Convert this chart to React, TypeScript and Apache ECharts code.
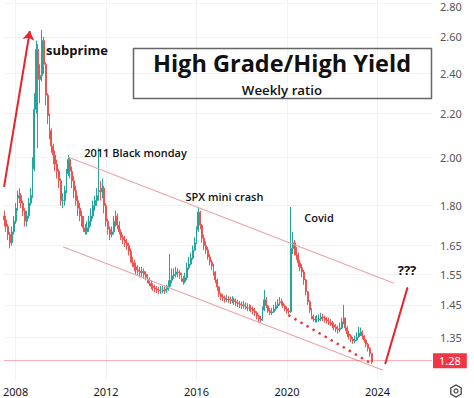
import React, { useEffect, useRef } from "react";
import * as echarts from "echarts";

// Monthly candles, first one = July 2007
const FIRST_MONTH = 2007.5;
const FIRST_OPEN = 1.76;

const closes = [
  1.745, 1.72, 1.69, 1.66, 1.70, 1.74,
  1.79, 1.83, 1.84, 1.81, 1.78, 1.74, 1.76, 1.81, 1.84, 1.95, 2.22, 2.53,
  2.37, 2.39, 2.58, 2.45, 2.29, 2.19, 2.12, 2.05, 2.01, 1.97, 1.94, 1.90,
  1.82, 1.82, 1.86, 1.93, 1.99, 1.94, 1.90, 1.86, 1.82, 1.79, 1.76, 1.745,
  1.715, 1.70, 1.715, 1.74, 1.76, 1.80, 1.82, 1.84, 1.86, 1.855, 1.87, 1.80,
  1.74, 1.71, 1.69, 1.70, 1.74, 1.76, 1.725, 1.70, 1.68, 1.67, 1.66, 1.65,
  1.63, 1.60, 1.59, 1.575, 1.565, 1.56, 1.555, 1.56, 1.55, 1.54, 1.53, 1.52,
  1.51, 1.505, 1.50, 1.498, 1.495, 1.495, 1.498, 1.495, 1.50, 1.51, 1.53, 1.545,
  1.55, 1.558, 1.555, 1.548, 1.535, 1.525, 1.538, 1.572, 1.585, 1.606, 1.634, 1.66,
  1.707, 1.775, 1.725, 1.677, 1.65, 1.634, 1.61, 1.592, 1.578, 1.558, 1.531, 1.508,
  1.485, 1.475, 1.472, 1.466, 1.469, 1.466, 1.463, 1.466, 1.46, 1.456, 1.453, 1.45,
  1.447, 1.45, 1.444, 1.44, 1.44, 1.437, 1.431, 1.425, 1.415, 1.406, 1.403, 1.434,
  1.466, 1.447, 1.431, 1.425, 1.428, 1.437, 1.447, 1.453, 1.46, 1.456, 1.447, 1.437,
  1.431, 1.428, 1.64, 1.66, 1.634, 1.617, 1.589, 1.572, 1.558, 1.531, 1.492, 1.46,
  1.434, 1.415, 1.406, 1.403, 1.403, 1.406, 1.412, 1.409, 1.403, 1.40, 1.397, 1.394,
  1.388, 1.382, 1.376, 1.373, 1.379, 1.397, 1.409, 1.379, 1.361, 1.355, 1.346, 1.34,
  1.343, 1.352, 1.364, 1.367, 1.355, 1.343, 1.331, 1.319, 1.304, 1.28,
];

const highs = [
  1.78, 1.76, 1.73, 1.70, 1.72, 1.76,
  1.81, 1.86, 1.87, 1.85, 1.82, 1.79, 1.78, 1.83, 1.87, 2.00, 2.30, 2.58,
  2.56, 2.45, 2.64, 2.60, 2.46, 2.30, 2.20, 2.13, 2.06, 2.03, 1.99, 1.95,
  1.91, 1.85, 1.88, 1.95, 2.01, 2.00, 1.96, 1.92, 1.88, 1.84, 1.81, 1.78,
  1.76, 1.73, 1.74, 1.76, 1.79, 1.82, 1.84, 1.87, 2.04, 1.90, 1.91, 1.88,
  1.81, 1.75, 1.72, 1.72, 1.76, 1.78, 1.77, 1.74, 1.71, 1.69, 1.685, 1.675,
  1.66, 1.64, 1.61, 1.60, 1.59, 1.58, 1.575, 1.575, 1.57, 1.56, 1.55, 1.54,
  1.53, 1.52, 1.515, 1.51, 1.508, 1.51, 1.512, 1.51, 1.515, 1.53, 1.62, 1.57,
  1.57, 1.575, 1.57, 1.565, 1.555, 1.545, 1.555, 1.59, 1.61, 1.625, 1.65, 1.68,
  1.72, 1.795, 1.78, 1.73, 1.69, 1.665, 1.645, 1.62, 1.60, 1.585, 1.56, 1.535,
  1.51, 1.49, 1.485, 1.48, 1.482, 1.478, 1.476, 1.478, 1.473, 1.47, 1.466, 1.463,
  1.46, 1.462, 1.458, 1.455, 1.452, 1.45, 1.445, 1.44, 1.43, 1.42, 1.415, 1.445,
  1.498, 1.475, 1.45, 1.44, 1.44, 1.45, 1.46, 1.468, 1.475, 1.47, 1.462, 1.452,
  1.445, 1.44, 1.795, 1.70, 1.67, 1.645, 1.625, 1.60, 1.585, 1.565, 1.535, 1.495,
  1.465, 1.44, 1.42, 1.415, 1.418, 1.42, 1.425, 1.422, 1.416, 1.412, 1.41, 1.406,
  1.40, 1.395, 1.39, 1.386, 1.395, 1.41, 1.45, 1.41, 1.385, 1.37, 1.36, 1.352,
  1.356, 1.366, 1.382, 1.38, 1.372, 1.358, 1.346, 1.335, 1.322, 1.306,
];

const lows = [
  1.72, 1.70, 1.67, 1.64, 1.65, 1.69,
  1.73, 1.78, 1.81, 1.79, 1.76, 1.72, 1.72, 1.75, 1.80, 1.83, 1.94, 2.20,
  2.04, 2.25, 2.36, 2.40, 2.24, 2.15, 2.08, 2.02, 1.97, 1.94, 1.91, 1.87,
  1.80, 1.79, 1.80, 1.85, 1.92, 1.91, 1.87, 1.83, 1.80, 1.76, 1.74, 1.72,
  1.70, 1.69, 1.69, 1.70, 1.72, 1.75, 1.78, 1.80, 1.82, 1.82, 1.83, 1.77,
  1.72, 1.69, 1.67, 1.68, 1.69, 1.72, 1.71, 1.69, 1.67, 1.655, 1.645, 1.635,
  1.615, 1.59, 1.575, 1.56, 1.55, 1.545, 1.54, 1.54, 1.535, 1.53, 1.52, 1.51,
  1.50, 1.495, 1.49, 1.488, 1.485, 1.485, 1.487, 1.485, 1.488, 1.495, 1.505, 1.52,
  1.535, 1.54, 1.54, 1.535, 1.525, 1.515, 1.52, 1.53, 1.565, 1.58, 1.60, 1.63,
  1.655, 1.70, 1.71, 1.66, 1.635, 1.62, 1.60, 1.58, 1.565, 1.545, 1.52, 1.495,
  1.475, 1.465, 1.462, 1.457, 1.458, 1.456, 1.453, 1.455, 1.45, 1.446, 1.443, 1.44,
  1.437, 1.438, 1.435, 1.43, 1.43, 1.427, 1.42, 1.415, 1.405, 1.397, 1.395, 1.40,
  1.43, 1.44, 1.425, 1.418, 1.418, 1.425, 1.432, 1.44, 1.448, 1.447, 1.44, 1.43,
  1.423, 1.42, 1.425, 1.62, 1.615, 1.60, 1.575, 1.56, 1.54, 1.515, 1.48, 1.45,
  1.425, 1.405, 1.398, 1.395, 1.395, 1.397, 1.40, 1.40, 1.395, 1.392, 1.388, 1.385,
  1.378, 1.372, 1.366, 1.362, 1.366, 1.375, 1.39, 1.37, 1.352, 1.345, 1.337, 1.332,
  1.333, 1.34, 1.35, 1.355, 1.345, 1.335, 1.322, 1.31, 1.295, 1.275,
];

const priceTicks = [2.8, 2.6, 2.4, 2.2, 2.0, 1.8, 1.65, 1.55, 1.45, 1.35];
const yearTicks = [2008, 2012, 2016, 2020, 2024];
const priceRange = [1.231, 2.818];
const yearRange = [2007.49, 2026.41];
const lastPrice = 1.28;

// annotation lines: [year, ratio]
const upperChannel = [[2010.34, 2.0], [2024.7, 1.521]];
const lowerChannel = [[2010.12, 1.645], [2024.22, 1.258]];
const dottedSupport = [[2020.06, 1.418], [2023.7, 1.277]];
const riseArrow = [[2007.49, 1.875], [2008.63, 2.634]];
const nextLeg = [[2024.35, 1.277], [2025.32, 1.504]];

export default function App() {
  const ref = useRef<HTMLDivElement>(null);

  useEffect(() => {
    const chart = echarts.init(ref.current!, null, { renderer: "svg" });
    const L = Math.log;
    const candles = closes.map((c, i) => {
      const o = i === 0 ? FIRST_OPEN : closes[i - 1];
      return [FIRST_MONTH + i / 12, L(o), L(c), L(lows[i]), L(highs[i])];
    });
    const toLog = (pts: number[][]) => pts.map(([x, v]) => [x, L(v)]);
    const plainLine = (name: string, pts: number[][], color: string, width: number, type: any = "solid", cap = "round") => ({
      name,
      type: "line",
      data: toLog(pts),
      showSymbol: false,
      symbol: "none",
      silent: true,
      z: 3,
      lineStyle: { color, width, type, cap },
    });

    const font = "Open Sans";
    const txt = (text: string, x: number, y: number, size: number, weight: any = 600) => ({
      type: "text",
      x,
      y,
      silent: true,
      z: 20,
      style: {
        text,
        fill: "#111",
        fontFamily: font,
        fontSize: size,
        fontWeight: weight,
        align: "center",
        verticalAlign: "middle",
        textAlign: "center",
        textVerticalAlign: "middle",
      },
    });

    const hex = [0, 1, 2, 3, 4, 5].map((k) => {
      const a = (Math.PI / 3) * k + Math.PI / 6;
      return [456 + 6 * Math.cos(a), 391 + 6 * Math.sin(a)];
    });
    const topTick = priceTicks[0];

    chart.setOption({
      animation: false,
      backgroundColor: "#fff",
      grid: { left: 0, right: 42, top: 0, bottom: 18, containLabel: false },
      xAxis: {
        type: "value",
        min: yearRange[0],
        max: yearRange[1],
        axisLine: { show: false },
        axisTick: { show: false, customValues: yearTicks },
        axisLabel: {
          customValues: yearTicks,
          formatter: (v: number) => String(Math.round(v)),
          color: "#131722",
          fontSize: 11,
          fontFamily: "Noto Sans",
          margin: 6,
        },
        splitLine: { show: true, lineStyle: { color: "#f2f2f4", width: 1 } },
      },
      yAxis: {
        type: "value",
        position: "right",
        min: L(priceRange[0]),
        max: L(priceRange[1]),
        axisLine: { show: false },
        axisTick: { show: false, customValues: priceTicks.map(L) },
        axisLabel: {
          customValues: priceTicks.map(L),
          formatter: (v: number) => {
            const s = Math.exp(v).toFixed(2);
            return s === topTick.toFixed(2) ? "{t|" + s + "}" : s;
          },
          rich: { t: { padding: [7, 0, 0, 0], color: "#555", fontSize: 11, fontFamily: "Noto Sans" } },
          color: "#555",
          fontSize: 11,
          fontFamily: "Noto Sans",
          margin: 8,
        },
        splitLine: { show: true, lineStyle: { color: "#f2f2f4", width: 1 } },
      },
      series: [
        {
          name: "ratio",
          type: "candlestick",
          data: candles,
          encode: { x: 0, y: [1, 2, 3, 4] },
          barWidth: 1.4,
          z: 2,
          itemStyle: {
            color: "#26a69a",
            color0: "#ef5350",
            borderColor: "#26a69a",
            borderColor0: "#ef5350",
            borderWidth: 1,
          },
          markLine: {
            silent: true,
            symbol: "none",
            data: [{ yAxis: L(lastPrice) }],
            lineStyle: { color: "rgba(242,54,69,0.4)", width: 1, type: "solid" },
            label: {
              show: true,
              position: "end",
              distance: 1,
              formatter: lastPrice.toFixed(2),
              color: "#fff",
              backgroundColor: "#f23645",
              padding: [2, 6],
              fontSize: 11,
              fontFamily: "Noto Sans",
            },
          },
        },
        plainLine("upper", upperChannel, "#eba2a9", 1.1),
        plainLine("lower", lowerChannel, "#eba2a9", 1.1),
        plainLine("support", dottedSupport, "#e53935", 2.4, [2.4, 4.6], "butt"),
        plainLine("next", nextLeg, "#e8232b", 2),
        {
          name: "rise",
          type: "line",
          data: [],
          silent: true,
          markLine: {
            silent: true,
            symbol: ["none", "arrow"],
            symbolSize: 9,
            lineStyle: { color: "#e8232b", width: 2, type: "solid" },
            label: { show: false },
            data: [[{ coord: toLog(riseArrow)[0] }, { coord: toLog(riseArrow)[1] }]],
          },
        },
      ],
      graphic: [
        {
          type: "rect",
          shape: { x: 133.5, y: 48.5, width: 298, height: 50 },
          style: { fill: "none", stroke: "#666", lineWidth: 1.5 },
          silent: true,
          z: 10,
        },
        txt("High Grade/High Yield", 282, 63, 23.5, 700),
        txt("Weekly ratio", 282, 90, 13.3, 600),
        txt("subprime", 77, 50, 13, 700),
        txt("2011 Black monday", 135.5, 152, 11, 600),
        txt("SPX mini crash", 224.5, 196, 11, 600),
        txt("Covid", 319, 217, 11, 600),
        txt("???", 407, 270, 13, 700),
        {
          type: "polygon",
          shape: { points: hex },
          style: { fill: "none", stroke: "#444", lineWidth: 1.3 },
          silent: true,
        },
        {
          type: "circle",
          shape: { cx: 456, cy: 391, r: 2 },
          style: { fill: "none", stroke: "#444", lineWidth: 1.2 },
          silent: true,
        },
      ],
    });
    return () => chart.dispose();
  }, []);

  return (
    <div
      ref={ref}
      style={{ position: "absolute", left: 0, top: 0, width: 474, height: 398 }}
    />
  );
}
